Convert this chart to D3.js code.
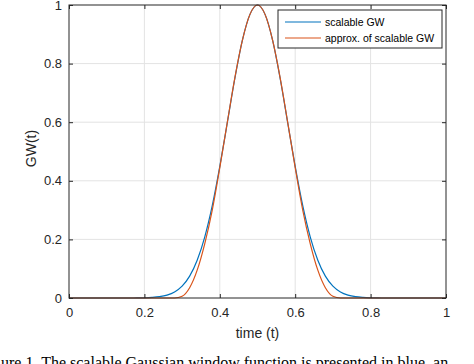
<!DOCTYPE html>
<html>
<head>
<meta charset="utf-8">
<script src="https://cdn.jsdelivr.net/npm/d3@7"></script>
<style>
  body { margin: 0; background: #fff; }
  svg { display: block; }
  .tick text { font-family: "Liberation Sans", Arial, sans-serif; font-size: 13px; fill: #262626; }
</style>
</head>
<body>
<div id="chart-area"></div>
<script>
// time samples, step 0.02
var time = d3.range(51).map(i => +(i * 0.02).toFixed(2));

// scalable GW (blue)
var scalableGW = [
  0, 0, 0, 0, 0, 0, 0, 0, 0, 0.0002,
  0.0007, 0.0019, 0.0044, 0.0099, 0.0207, 0.0405, 0.0746, 0.129, 0.208, 0.315,
  0.449, 0.599, 0.750, 0.880, 0.968, 1,
  0.968, 0.880, 0.750, 0.599, 0.449, 0.315, 0.208, 0.129, 0.0746, 0.0405,
  0.0207, 0.0099, 0.0044, 0.0019, 0.0007, 0.0002, 0, 0, 0, 0,
  0, 0, 0, 0, 0
];

// approx. of scalable GW (orange)
var approxGW = [
  0, 0, 0, 0, 0, 0, 0, 0, 0, 0,
  0, 0, 0, 0, 0, 0.006, 0.035, 0.095, 0.185, 0.300,
  0.445, 0.600, 0.752, 0.880, 0.968, 1,
  0.968, 0.880, 0.752, 0.600, 0.445, 0.300, 0.185, 0.095, 0.035, 0.006,
  0, 0, 0, 0, 0, 0, 0, 0, 0, 0,
  0, 0, 0, 0, 0
];

var xTicks = [0, 0.2, 0.4, 0.6, 0.8, 1];
var yTicks = [0, 0.2, 0.4, 0.6, 0.8, 1];
var seriesNames = ["scalable GW", "approx. of scalable GW"];
var seriesColors = ["#0072BD", "#D95319"];

var margin = { top: 5, right: 28, bottom: 66, left: 69 };
var width = 474 - margin.left - margin.right;
var height = 364 - margin.top - margin.bottom;

var svg = d3.select("#chart-area")
    .append("svg")
    .attr("width", 474)
    .attr("height", 364);

var g = svg.append("g")
    .attr("transform", "translate(" + margin.left + "," + margin.top + ")");

var x = d3.scaleLinear().domain([0, 1]).range([0, width]);
var y = d3.scaleLinear().domain([0, 1]).range([height, 0]);

// grid
g.append("g").selectAll("line").data(xTicks.slice(1, -1)).enter().append("line")
    .attr("x1", d => x(d)).attr("x2", d => x(d))
    .attr("y1", 0).attr("y2", height)
    .attr("stroke", "#e3e3e3").attr("stroke-width", 1);
g.append("g").selectAll("line").data(yTicks.slice(1, -1)).enter().append("line")
    .attr("x1", 0).attr("x2", width)
    .attr("y1", d => y(d)).attr("y2", d => y(d))
    .attr("stroke", "#e3e3e3").attr("stroke-width", 1);

// curves
var line = d3.line()
    .x((d, i) => x(time[i]))
    .y(d => y(d))
    .curve(d3.curveMonotoneX);

[scalableGW, approxGW].forEach((s, k) => {
    g.append("path")
        .datum(s)
        .attr("fill", "none")
        .attr("stroke", seriesColors[k])
        .attr("stroke-width", 1.2)
        .attr("d", line);
});

// axes, matlab style box with inward ticks
function styleAxis(sel) {
    sel.select(".domain").remove();
    sel.selectAll(".tick line").attr("stroke", "#262626");
}
var fmt = d3.format("");
g.append("g").attr("transform", "translate(0," + height + ")")
    .call(d3.axisBottom(x).tickValues(xTicks).tickFormat(fmt).tickSizeInner(-4).tickSizeOuter(0).tickPadding(10))
    .call(styleAxis);
g.append("g")
    .call(d3.axisLeft(y).tickValues(yTicks).tickFormat(fmt).tickSizeInner(-4).tickSizeOuter(0).tickPadding(7))
    .call(styleAxis);
g.append("g")
    .call(d3.axisTop(x).tickValues(xTicks).tickFormat("").tickSizeInner(-4).tickSizeOuter(0))
    .call(styleAxis);
g.append("g").attr("transform", "translate(" + width + ",0)")
    .call(d3.axisRight(y).tickValues(yTicks).tickFormat("").tickSizeInner(-4).tickSizeOuter(0))
    .call(styleAxis);

g.append("rect")
    .attr("width", width).attr("height", height)
    .attr("fill", "none").attr("stroke", "#262626").attr("stroke-width", 1);

// labels
g.append("text")
    .attr("x", width / 2)
    .attr("y", height + 40)
    .attr("text-anchor", "middle")
    .attr("font-family", "Liberation Sans, Arial, sans-serif")
    .attr("font-size", 14)
    .attr("fill", "#262626")
    .text("time (t)");

g.append("text")
    .attr("x", -height / 2 + 3)
    .attr("y", -33)
    .attr("transform", "rotate(-90)")
    .attr("text-anchor", "middle")
    .attr("font-family", "Liberation Sans, Arial, sans-serif")
    .attr("font-size", 14)
    .attr("fill", "#262626")
    .text("GW(t)");

// legend
var legend = g.append("g").attr("transform", "translate(" + (278 - margin.left) + "," + (10 - margin.top) + ")");
legend.append("rect")
    .attr("width", 164).attr("height", 38)
    .attr("fill", "#fff").attr("stroke", "#262626").attr("stroke-width", 1);
seriesNames.forEach((name, k) => {
    var ly = 12 + k * 16;
    legend.append("line")
        .attr("x1", 7).attr("x2", 43)
        .attr("y1", ly).attr("y2", ly)
        .attr("stroke", seriesColors[k]).attr("stroke-width", 1.2);
    legend.append("text")
        .attr("x", 47).attr("y", ly + 4)
        .attr("font-family", "Liberation Sans, Arial, sans-serif")
        .attr("font-size", 10.5)
        .attr("fill", "#000")
        .text(name);
});

// cropped caption at the bottom
svg.append("text")
    .attr("x", 1)
    .attr("y", 368)
    .attr("font-family", "Liberation Serif, serif")
    .attr("font-size", 16)
    .attr("fill", "#000")
    .text("ure 1. The scalable Gaussian window function is presented in blue, an");
</script>
</body>
</html>
